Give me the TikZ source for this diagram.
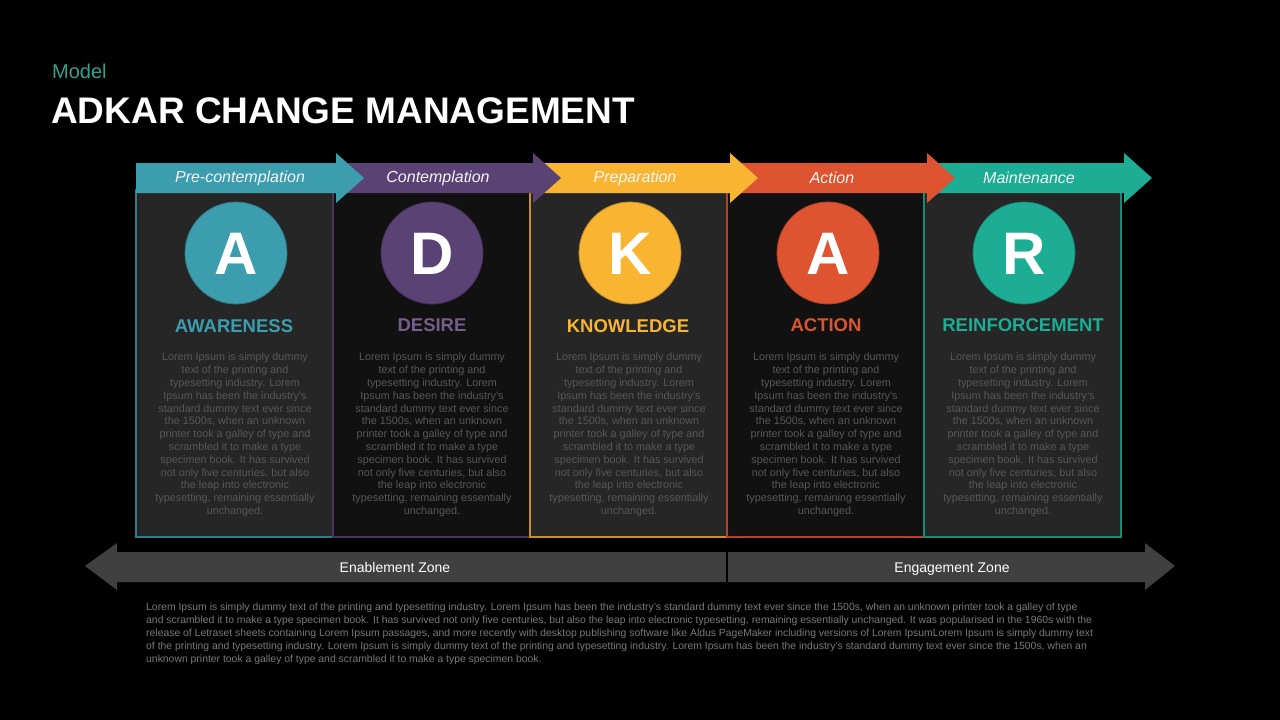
\documentclass[tikz,border=0pt]{standalone}
\usepackage{fontspec}
\setmainfont{Liberation Sans}
\definecolor{cA}{HTML}{3C9DAE}
\definecolor{cD}{HTML}{5B4275}
\definecolor{cK}{HTML}{F9B532}
\definecolor{cR}{HTML}{DF5430}
\definecolor{cM}{HTML}{1DAC94}
\definecolor{panelL}{HTML}{262626}
\definecolor{panelD}{HTML}{111111}
\definecolor{bodytxt}{HTML}{575757}
\definecolor{zone}{HTML}{404040}
\definecolor{modelc}{HTML}{35A08C}
\definecolor{foot}{HTML}{7A7A7A}
\tikzset{
  bannertxt/.style={text=white!92!gray, font=\fontsize{16}{18}\selectfont\itshape, inner sep=0pt},
  letter/.style={text=white, font=\fontsize{60}{60}\selectfont\bfseries, inner sep=0pt},
  heading/.style={font=\fontsize{18.5}{20}\selectfont\bfseries, inner sep=0pt},
  bodybox/.style={text=bodytxt, font=\fontsize{10.8}{12.8}\selectfont, align=center, inner sep=0pt},
  zonetxt/.style={text=white, font=\fontsize{14}{16}\selectfont, inner sep=0pt, anchor=base},
}
\newcommand{\bodytext}{Lorem Ipsum is simply dummy\\text of the printing and\\typesetting industry. Lorem\\Ipsum has been the industry's\\standard dummy text ever since\\the 1500s, when an unknown\\printer took a galley of type and\\scrambled it to make a type\\specimen book. It has survived\\not only five centuries, but also\\the leap into electronic\\typesetting, remaining essentially\\unchanged.}
\begin{document}
\begin{tikzpicture}[x=1pt,y=-1pt]
\fill[black] (0,0) rectangle (1280,720);
\useasboundingbox (0,0) rectangle (1280,720);

% title
\node[anchor=west, text=modelc, font=\fontsize{20}{22}\selectfont, inner sep=0pt] (model) at (52,71) {Model};
\node[anchor=west, text=white, font=\fontsize{37}{40}\selectfont\bfseries, inner sep=0pt] (title) at (51,111) {ADKAR CHANGE MANAGEMENT};

% panels
\foreach \i/\c/\f in {0/cA/panelL,1/cD/panelD,2/cK/panelL,3/cR/panelD,4/cM/panelL}{
  \pgfmathsetmacro{\xa}{136+197*\i}
  \pgfmathsetmacro{\xb}{136+197*(\i+1)}
  \filldraw[fill=\f, draw=\c!80!black, line width=1.6pt] (\xa,190) rectangle (\xb,537);
}

% banners (drawn right to left so heads overlap)
\foreach \i/\c in {4/cM,3/cR,2/cK,1/cD,0/cA}{
  \pgfmathsetmacro{\xa}{136+197*\i}
  \pgfmathsetmacro{\xb}{\xa+200}
  \pgfmathsetmacro{\xt}{\xa+228}
  \fill[\c] (\xa,163) -- (\xb,163) -- (\xb,153) -- (\xt,178) -- (\xb,203) -- (\xb,193) -- (\xa,193) -- cycle;
}
\node[bannertxt] (b1) at (240,178) {Pre-contemplation};
\node[bannertxt] (b2) at (438,178) {Contemplation};
\node[bannertxt] (b3) at (635,178) {Preparation};
\node[bannertxt] (b4) at (832,178) {Action};
\node[bannertxt] (b5) at (1029,178) {Maintenance};

% circles
\foreach \n/\x/\c/\l in {cA1/236/cA/A,cD1/432/cD/D,cK1/630/cK/K,cR1/828/cR/A,cM1/1024/cM/R}{
  \filldraw[fill=\c, draw=\c!75!black, line width=0.8pt] (\x,253) circle (51);
  \node[letter] (\n) at (\x,254) {\l};
}

% headings
\node[heading, text=cA] (h1) at (234,326) {AWARENESS};
\node[heading, text=cD!85!white] (h2) at (432,325) {DESIRE};
\node[heading, text=cK] (h3) at (628,326) {KNOWLEDGE};
\node[heading, text=cR] (h4) at (826,325) {ACTION};
\node[heading, text=cM] (h5) at (1023,325) {REINFORCEMENT};

% body texts
\node[bodybox] (t1) at (235,435) {\bodytext};
\node[bodybox] (t2) at (432,435) {\bodytext};
\node[bodybox] (t3) at (629,435) {\bodytext};
\node[bodybox] (t4) at (826,435) {\bodytext};
\node[bodybox] (t5) at (1023,435) {\bodytext};

% zone arrow
\fill[zone] (85,566) -- (117,543) -- (117,552) -- (1145,552) -- (1145,543) -- (1175,566) -- (1145,590) -- (1145,582) -- (117,582) -- (117,590) -- cycle;
\draw[black, line width=1.5pt] (727,552) -- (727,582);
\node[zonetxt] (z1) at (395,572) {Enablement Zone};
\node[zonetxt] (z2) at (952,572) {Engagement Zone};

% footer paragraph
\node[anchor=north west, text=foot, font=\fontsize{10.4}{12.9}\selectfont, align=left, inner sep=0pt] (foot) at (146,603) {Lorem Ipsum is simply dummy  text of the printing and typesetting industry. Lorem Ipsum has been the industry's standard dummy text ever since the 1500s, when an unknown printer took a galley of type\\and scrambled it to make a type specimen book. It has survived not only five centuries, but also the leap into electronic typesetting, remaining essentially unchanged. It was popularised in the 1960s with the\\release of Letraset sheets containing Lorem Ipsum passages, and more recently with desktop publishing software like Aldus PageMaker including versions of Lorem IpsumLorem Ipsum is simply dummy text\\of the printing and typesetting industry. Lorem Ipsum is simply dummy text of the printing and typesetting industry. Lorem Ipsum has been the industry's standard dummy text ever since the 1500s, when an\\unknown printer took a galley of type and scrambled it to make a type specimen book.};
\end{tikzpicture}
\end{document}
